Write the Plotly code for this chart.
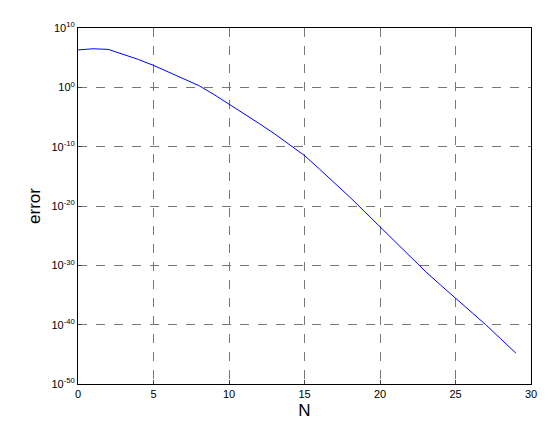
import plotly.graph_objects as go

N = list(range(30))
log_err = [6.3,6.5,6.4,5.6,4.7,3.7,2.6,1.4,0.3,-1.2,-2.8,-4.4,-6.1,-7.8,-9.6,-11.5,-13.8,-16.1,-18.5,-21,-23.5,-26,-28.5,-31,-33.3,-35.5,-37.7,-40,-42.4,-44.8]
err = [10**v for v in log_err]
ytick_exp = [10,0,-10,-20,-30,-40,-50]

fig = go.Figure(go.Scatter(x=N, y=err, mode="lines", line=dict(color="blue", width=1)))
ax = dict(showline=True, linecolor="black", mirror=True, ticks="inside", ticklen=4,
          showgrid=True, gridcolor="#777", griddash="dash", gridwidth=1, zeroline=False,
          tickfont=dict(family="Liberation Sans, Arial", size=11, color="black"))
fig.update_layout(width=550, height=431, plot_bgcolor="white", paper_bgcolor="white",
    margin=dict(l=70, r=27, t=20, b=55), showlegend=False,
    xaxis=dict(ax, range=[0,30], dtick=5,
               title=dict(text="N", font=dict(family="Liberation Sans, Arial", size=17, color="black"), standoff=4)),
    yaxis=dict(ax, type="log", range=[-50,10], tickvals=[10**e for e in ytick_exp],
               ticktext=[f"10<sup>{e}</sup>" for e in ytick_exp],
               title=dict(text="error", font=dict(family="Liberation Sans, Arial", size=17, color="black"), standoff=6)))
fig.write_html("out.html")
